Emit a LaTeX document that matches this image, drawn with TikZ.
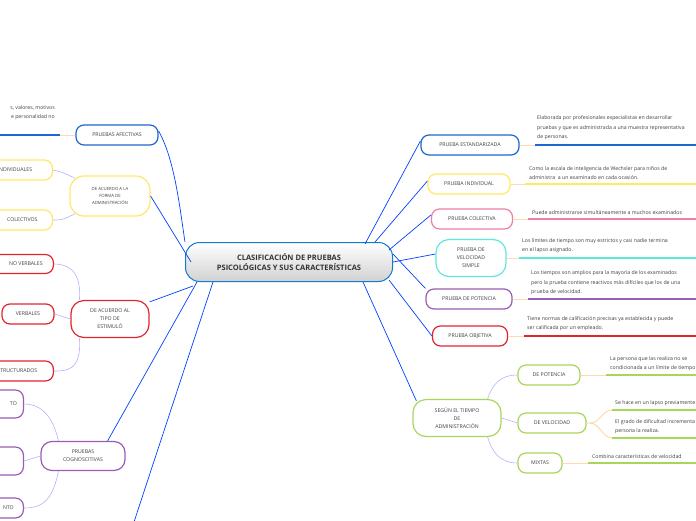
\documentclass[tikz,border=0pt]{standalone}
\usepackage{fontspec}
\setmainfont{Open Sans}
\begin{document}
\begin{tikzpicture}[x=1pt,y=-1pt,font=\fontsize{5.2}{8}\selectfont,text=black!75,
 box/.style={draw=#1,line width=1.2pt,fill=white,rounded corners=8pt,inner sep=2pt,align=center},
 desc/.style={anchor=south west,align=left,inner sep=0pt,font=\fontsize{5.2}{9.5}\selectfont},
 br/.style={draw=blue!75!cyan,line width=0.7pt},
 sub/.style={draw=blue!30,line width=0.6pt},
 lor/.style={draw=orange!30,line width=1pt},
 ul/.style={line width=1.3pt,draw=#1}]
\useasboundingbox (0,0) rectangle (696,520);
\clip (0,0) rectangle (696,520);
\definecolor{cb}{HTML}{1E66D0}\definecolor{cy}{HTML}{FFE866}\definecolor{cp}{HTML}{F07EA6}
\definecolor{cc}{HTML}{5EE8DA}\definecolor{cv}{HTML}{9A5CB4}\definecolor{cr}{HTML}{E0262C}
\definecolor{cg}{HTML}{A8D65A}
% center
\node[draw=cyan!60!blue,line width=1pt,rounded corners=14pt,top color=white,bottom color=black!18,minimum width=207pt,minimum height=39pt,align=center,font=\fontsize{7.5}{10}\selectfont\bfseries,text=black!80] (c) at (289,262) {CLASIFICACIÓN DE PRUEBAS\\PSICOLÓGICAS Y SUS CARACTERÍSTICAS};
% left nodes
\node[box=cb,minimum width=82pt,minimum height=20pt] (af) at (117,135) {PRUEBAS AFECTIVAS};
\node[box=cy,minimum width=80pt,minimum height=40pt,rounded corners=14pt,font=\fontsize{4.3}{7}\selectfont] (fa) at (110,196) {DE ACUERDO A LA\\FORMA DE\\ADMINISTRACIÓN};
\node[box=cy,minimum width=75pt,minimum height=20pt,anchor=east] (ind) at (53,170) {INDIVIDUALES};
\node[box=cy,minimum width=75pt,minimum height=20pt,anchor=east] (col) at (53,220) {\hspace*{15pt}COLECTIVOS};
\node[box=cr,minimum width=78pt,minimum height=37pt,rounded corners=13pt] (te) at (110,319) {DE ACUERDO AL\\TIPO DE\\ESTIMULÓ};
\node[box=cr,minimum width=75pt,minimum height=19pt,anchor=east] (nv) at (54,264) {\hspace*{20pt}NO VERBALES};
\node[box=cr,minimum width=52pt,minimum height=20pt] (ve) at (28,314) {VERBALES};
\node[box=cr,minimum width=75pt,minimum height=20pt,anchor=east] (es) at (54,371) {ESTRUCTURADOS};
\node[box=cv,minimum width=84pt,minimum height=29pt,rounded corners=11pt] (cog) at (83,456) {PRUEBAS\\COGNOSCITIVAS};
\node[box=cv,minimum width=60pt,minimum height=28pt,anchor=east,align=right] (p1) at (24,404) {\hspace*{40pt}TO};
\node[box=cv,minimum width=60pt,minimum height=28pt,anchor=east] (p2) at (24,461) {};
\node[box=cv,minimum width=60pt,minimum height=20pt,anchor=east,align=right] (p3) at (24,508) {\hspace*{30pt}NTO};
% left connectors
\draw[br] (af.east) ++(0,-4) .. controls (175,160) and (180,210) .. (c.north west);
\draw[br] (fa.east) -- ([xshift=6pt]c.west);
\draw[br] (te.north east) ++(0,2) -- ([xshift=8pt,yshift=-4pt]c.south west);
\draw[br] ([xshift=-18pt]cog.north east) -- ([xshift=12pt]c.south west);
\coordinate (bot) at (133,525);
\draw[br] ([xshift=28pt]c.south west) -- (bot);
\draw[sub] (fa.north west) ++(6,3) .. controls (62,172) .. (ind.east);
\draw[sub] (fa.south west) ++(6,-3) .. controls (62,220) .. (col.east);
\draw[sub] (te.north west) ++(9,0) .. controls (82,268) and (65,264) .. (nv.east);
\draw[sub] (te.west) -- (ve.east);
\draw[sub] (te.south west) ++(9,0) .. controls (82,372) and (65,371) .. (es.east);
\draw[sub] (cog.north west) ++(18,0) .. controls (52,412) and (38,404) .. (p1.east);
\draw[sub] (cog.west) -- (p2.east);
\draw[sub] (cog.south west) ++(18,0) .. controls (52,505) and (38,508) .. (p3.east);
% afectivas line
\draw[lor] (af.west) -- (60,135);
\draw[ul=cb] (60,135) -- (0,135);
\node[desc,anchor=south east,align=right] at (55,120) {s, valores, motivos\\e personalidad no};
% right nodes
\node[box=cb,minimum width=98pt,minimum height=20pt] (r1) at (470,145) {PRUEBA ESTANDARIZADA};
\node[box=cy,minimum width=82pt,minimum height=20pt] (r2) at (469,184) {PRUEBA INDIVIDUAL};
\node[box=cp,minimum width=81pt,minimum height=20pt] (r3) at (472,219) {PRUEBA COLECTIVA};
\node[box=cc,minimum width=70pt,minimum height=37pt,rounded corners=13pt] (r4) at (471,258) {PRUEBA DE\\VELOCIDAD\\SIMPLE};
\node[box=cv,minimum width=86pt,minimum height=20pt] (r5) at (469,299) {PRUEBA DE POTENCIA};
\node[box=cr,minimum width=75pt,minimum height=20pt] (r6) at (470,336) {PRUEBA OBJETIVA};
\node[box=cg,minimum width=88pt,minimum height=37pt,rounded corners=13pt] (st) at (457,418) {SEGÚN EL TIEMPO\\DE\\ADMINISTRACIÓN};
\node[box=cg,minimum width=62pt,minimum height=20pt] (g1) at (549,375) {DE POTENCIA};
\node[box=cg,minimum width=68pt,minimum height=20pt] (g2) at (552,423) {DE VELOCIDAD};
\node[box=cg,minimum width=44pt,minimum height=20pt] (g3) at (540,463) {MIXTAS};
\draw[br] ([xshift=-28pt,yshift=-2pt]c.north east) -- ([yshift=4pt]r1.west);
\draw[br] ([xshift=-18pt]c.north east) -- ([yshift=3pt]r2.west);
\draw[br] ([xshift=-4pt,yshift=-8pt]c.north east) -- ([yshift=4pt]r3.west);
\draw[br] (c.east) -- ([yshift=4pt]r4.west);
\draw[br] ([yshift=8pt]c.east) -- (r5.north west);
\draw[br] ([xshift=-4pt,yshift=2pt]c.south east) -- (r6.west);
\draw[br] ([xshift=-30pt]c.south east) -- ([xshift=4pt,yshift=-2pt]st.north west);
\draw[sub] ([xshift=-14pt]st.north east) .. controls (492,385) and (500,375) .. (g1.west);
\draw[sub] (st.east) -- (g2.west);
\draw[sub] ([xshift=-14pt]st.south east) .. controls (492,452) and (500,463) .. (g3.west);
% right lines and texts
\foreach \n/\y/\s/\col in {r1/145/535/cb,r2/184/525/cy,r3/219/528/cp,r4/258/519/cc,r5/299/528/cv,r6/336/524/cr,g1/375/606/cg,g3/463/588/cg}{
 \draw[lor] (\n.east) -- (\s,\y);
 \draw[ul=\col] (\s,\y) -- (700,\y);}
\node[desc] at (537,140) {Elaborada por profesionales especialistas en desarrollar\\pruebas y que es administrada a una muestra representativa\\de personas.};
\node[desc] at (529,180) {Como la escala de inteligencia de Wechsler para niños de\\administra\ \ a un examinado en cada ocasión.};
\node[desc] at (532,215) {Puede administrarse simultáneamente a muchos examinados};
\node[desc] at (522,253) {Los límites de tiempo son muy estrictos y casi nadie termina\\en el lapso asignado.};
\node[desc] at (531,295) {Los tiempos son amplios para la mayoría de los examinados\\pero la prueba contiene reactivos más difíciles que los de una\\prueba de velocidad.};
\node[desc] at (527,331) {Tiene normas de calificación precisas ya establecida y puede\\ser calificada por un empleado.};
\node[desc] at (610,371) {La persona que las realiza no se\\condicionada a un límite de tiempo};
\node[desc] at (592,459) {Combina características de velocidad};
\coordinate (b1) at (612,410); \coordinate (b2) at (612,438);
\draw[lor] (g2.east) -- (590,423) .. controls (600,423) and (602,410) .. (b1);
\draw[lor] (590,423) .. controls (600,423) and (602,438) .. (b2);
\draw[ul=cg] (b1) -- (700,410); \draw[ul=cg] (b2) -- (700,438);
\node[desc] at (615,406) {Se hace en un lapso previamente};
\node[desc] at (615,434) {El grado de dificultad incrementa\\persona la realiza.};
\end{tikzpicture}
\end{document}
